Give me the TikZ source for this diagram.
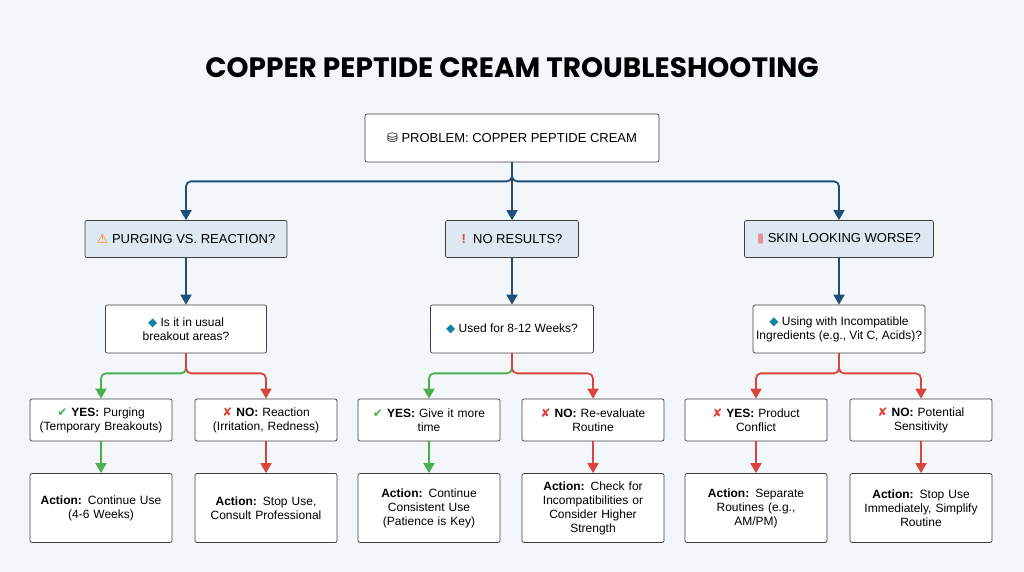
\documentclass[tikz,border=0pt]{standalone}
\usepackage{fontspec}
\setmainfont{Liberation Sans}
\newfontfamily\titlefont{Poppins}
\newfontfamily\symfont{DejaVu Sans}
\usetikzlibrary{positioning,arrows.meta}
\definecolor{navy}{HTML}{1F4E79}
\definecolor{okgreen}{HTML}{4CAF50}
\definecolor{badred}{HTML}{D9453D}
\definecolor{catfill}{HTML}{DDE8F3}
\definecolor{bgcol}{HTML}{F4F7FA}
\tikzset{
  box/.style={draw=black!75, fill=white, rounded corners=2pt, align=center, font=\fontsize{12}{14}\selectfont, line width=0.7pt, inner sep=3pt},
  catbox/.style={box, fill=catfill, minimum height=37pt, font=\fontsize{13}{15}\selectfont},
  ansbox/.style={box, text width=136pt, minimum height=42pt},
  actbox/.style={box, text width=136pt, minimum height=69pt},
  blueline/.style={draw=navy, line width=1.8pt, rounded corners=5pt, -{Triangle[length=10pt,width=11pt]}},
  greenline/.style={blueline, draw=okgreen},
  redline/.style={blueline, draw=badred}
}
\newcommand{\dia}{{\symfont\color{navy!70!cyan}◆}\ }
\newcommand{\yes}{{\symfont\color{okgreen}✔}\ }
\newcommand{\no}{{\symfont\color{badred}✘}\ }
\begin{document}
\begin{tikzpicture}[x=1pt,y=-1pt]
\fill[bgcol] (0,0) rectangle (1024,572);
\useasboundingbox (0,0) rectangle (1024,572);
\node (title) at (512,68) {\titlefont\bfseries\fontsize{28}{32}\selectfont COPPER PEPTIDE CREAM TROUBLESHOOTING};
\node[box, minimum width=294pt, minimum height=48pt, font=\fontsize{13}{15}\selectfont] (prob) at (512,138) {{\symfont ⛁}\ PROBLEM: COPPER PEPTIDE CREAM};
% categories
\node[catbox, minimum width=202pt] (cat1) at (186,239) {{\symfont\color{orange}⚠}\ PURGING VS. REACTION?};
\node[catbox, minimum width=133pt] (cat2) at (512,239) {{\color{badred}\bfseries !}\ \ NO RESULTS?};
\node[catbox, minimum width=189pt] (cat3) at (839,239) {{\symfont\color{badred!60}▮}\ SKIN LOOKING WORSE?};
% questions
\node[box, minimum width=161pt, minimum height=48pt] (q1) at (186,329) {\dia Is it in usual\\breakout areas?};
\node[box, minimum width=163pt, minimum height=48pt] (q2) at (512,329) {\dia Used for 8-12 Weeks?};
\node[box, minimum width=163pt, minimum height=48pt] (q3) at (839,329) {\dia Using with Incompatible\\Ingredients (e.g., Vit C, Acids)?};
% answers
\node[ansbox] (a1) at (101,420) {\yes\textbf{YES:} Purging\\(Temporary Breakouts)};
\node[ansbox] (a2) at (266,420) {\no\textbf{NO:} Reaction\\(Irritation, Redness)};
\node[ansbox] (a3) at (429,420) {\yes\textbf{YES:} Give it more\\time};
\node[ansbox] (a4) at (593,420) {\no\textbf{NO:} Re-evaluate\\Routine};
\node[ansbox] (a5) at (756,420) {\no\textbf{YES:} Product\\Conflict};
\node[ansbox] (a6) at (921,420) {\no\textbf{NO:} Potential\\Sensitivity};
% actions
\node[actbox] (c1) at (101,508) {\textbf{Action:} Continue Use\\(4-6 Weeks)};
\node[actbox] (c2) at (266,508) {\textbf{Action:} Stop Use,\\Consult Professional};
\node[actbox] (c3) at (429,508) {\textbf{Action:} Continue\\Consistent Use\\(Patience is Key)};
\node[actbox] (c4) at (593,508) {\textbf{Action:} Check for\\Incompatibilities or\\Consider Higher\\Strength};
\node[actbox] (c5) at (756,508) {\textbf{Action:} Separate\\Routines (e.g.,\\AM/PM)};
\node[actbox] (c6) at (921,508) {\textbf{Action:} Stop Use\\Immediately, Simplify\\Routine};
% connectors
\draw[blueline] (prob.south) -- ++(0,19) -| (cat1.north);
\draw[blueline] (prob.south) -- ++(0,19) -| (cat3.north);
\draw[blueline] (prob.south) -- (cat2.north);
\foreach \i in {1,2,3}
  \draw[blueline] (cat\i.south) -- (q\i.north);
\draw[greenline] (q1.south) -- ++(0,20) -| (a1.north);
\draw[redline] (q1.south) -- ++(0,20) -| (a2.north);
\draw[greenline] (q2.south) -- ++(0,20) -| (a3.north);
\draw[redline] (q2.south) -- ++(0,20) -| (a4.north);
\draw[redline] (q3.south) -- ++(0,20) -| (a5.north);
\draw[redline] (q3.south) -- ++(0,20) -| (a6.north);
\draw[greenline] (a1.south) -- (c1.north);
\draw[redline] (a2.south) -- (c2.north);
\draw[greenline] (a3.south) -- (c3.north);
\foreach \i in {4,5,6}
  \draw[redline] (a\i.south) -- (c\i.north);
\end{tikzpicture}
\end{document}
